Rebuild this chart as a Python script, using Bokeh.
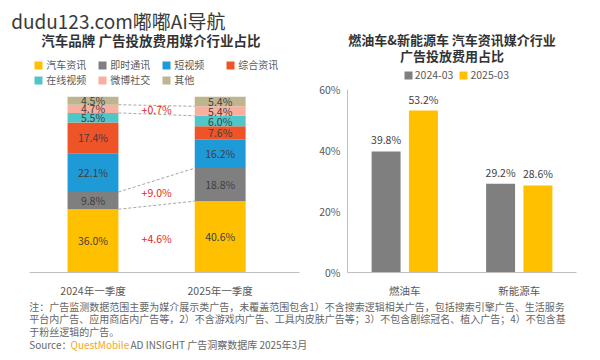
from bokeh.plotting import figure
from bokeh.models import (ColumnDataSource, Range1d, FactorRange, FixedTicker,
                          Legend, LegendItem, Label)
from bokeh.layouts import row, column
from bokeh.transform import dodge
from bokeh.core.properties import value
from bokeh.embed import file_html
from bokeh.resources import INLINE

FONT = "Noto Sans CJK SC"

# ---------------- data: left chart ----------------
quarters = ["2024年一季度", "2025年一季度"]
media = ["汽车资讯", "即时通讯", "短视频", "综合资讯", "在线视频", "微博社交", "其他"]
share_2024q1 = [36.0, 9.8, 22.1, 17.4, 5.5, 4.7, 4.5]
share_2025q1 = [40.6, 18.8, 16.2, 7.6, 6.0, 5.4, 5.4]
highlighted = ["汽车资讯", "即时通讯", "微博社交"]
media_colors = ["#FFC000", "#7F7F7F", "#1E9AD6", "#EE5428", "#4FC6C8", "#F9AFA0", "#BEB58F"]

# ---------------- data: right chart ----------------
car_types = ["燃油车", "新能源车"]
periods = ["2024-03", "2025-03"]
news_2024_03 = [39.8, 29.2]
news_2025_03 = [53.2, 28.6]
y_ticks = [0, 20, 40, 60]
period_colors = ["#7F7F7F", "#FFC000"]

# ---------------- texts ----------------
watermark = "dudu123.com嘟嘟Ai导航"
left_title = "汽车品牌 广告投放费用媒介行业占比"
right_title = ["燃油车&新能源车 汽车资讯媒介行业", "广告投放费用占比"]
notes = [
    "注：广告监测数据范围主要为媒介展示类广告，未覆盖范围包含1）不含搜索逻辑相关广告，包括搜索引擎广告、生活服务",
    "平台内广告、应用商店内广告等，2）不含游戏内广告、工具内皮肤广告等；3）不包含剧综冠名、植入广告；4）不包含基",
    "于粉丝逻辑的广告。",
]
source_parts = ["Source：", "QuestMobile", "AD INSIGHT 广告洞察数据库 2025年3月"]

TXT = "#404040"
GRAY = "#595959"

# layout geometry (page pixels)
PAGE_X0, PAGE_Y0 = 0, 0
W1, H1 = 316, 300
W2 = 276
BOTTOM = 24
FRAME_BOTTOM_PAGE = PAGE_Y0 + H1 - BOTTOM           # 276

# =============== left figure ===============
L_PX_PER_UNIT = 127.2        # px between the two bar centres
L_X0_PAGE = 92.5             # page x of first bar centre
L_PX_PER_PCT = 1.783
lx = lambda px: (px - L_X0_PAGE) / L_PX_PER_UNIT
ly = lambda py: (FRAME_BOTTOM_PAGE - py) / L_PX_PER_PCT

left = figure(width=W1, height=H1, output_backend="svg", toolbar_location=None,
              x_range=Range1d(lx(PAGE_X0), lx(PAGE_X0 + W1)),
              y_range=Range1d(0, ly(PAGE_Y0)),
              y_axis_location=None,
              min_border_left=0, min_border_right=0,
              min_border_top=0, min_border_bottom=BOTTOM)
left.outline_line_color = None
left.grid.visible = False

xs = list(range(len(quarters)))
stack_data = {"x": xs}
for m, a, b in zip(media, share_2024q1, share_2025q1):
    stack_data[m] = [a, b]
stack_src = ColumnDataSource(stack_data)
stack_rs = left.vbar_stack(media, x="x", width=0.4, color=media_colors,
                           line_color=None, source=stack_src)

seg_x, seg_y, seg_t = [], [], []
cums, mids = [], []
for xi, shares in enumerate([share_2024q1, share_2025q1]):
    c = 0.0
    cum, mid = [0.0], []
    for s in shares:
        seg_x.append(xi)
        seg_y.append(c + s / 2)
        mid.append(c + s / 2)
        seg_t.append(f"{s:.1f}%")
        c += s
        cum.append(c)
    cums.append(cum)
    mids.append(mid)
left.text(x=seg_x, y=seg_y, text=seg_t, text_align="center", text_baseline="middle",
          text_font=value(FONT), text_font_size="10.5px", text_color=TXT)

ks = set()
dx, dy, dt = [], [], []
for name in highlighted:
    i = media.index(name)
    if i > 0:
        ks.add(i)
    ks.add(i + 1)
    d = share_2025q1[i] - share_2024q1[i]
    dx.append(0.5)
    dy.append((mids[0][i] + mids[1][i]) / 2)
    dt.append(f"{d:+.1f}%")
ks = sorted(ks)
left.segment(x0=[0.2] * len(ks), y0=[cums[0][k] for k in ks],
             x1=[0.8] * len(ks), y1=[cums[1][k] for k in ks],
             line_color="#A6A6A6", line_width=1, line_dash="3 2")
left.text(x=dx, y=dy, text=dt, text_align="center", text_baseline="middle",
          text_font=value(FONT), text_font_size="10.5px", text_color="#E02828")

ax = left.xaxis[0]
ax.ticker = FixedTicker(ticks=xs)
ax.major_label_overrides = {i: q for i, q in enumerate(quarters)}
ax.bounds = (lx(28.7), lx(298.5))
ax.major_tick_line_color = None
ax.major_tick_out = 0
ax.major_tick_in = 0
ax.minor_tick_line_color = None
ax.axis_line_color = "#BFBFBF"
ax.major_label_standoff = 10
ax.major_label_text_font = FONT
ax.major_label_text_font_size = "10.5px"
ax.major_label_text_color = GRAY

leg = Legend(items=[LegendItem(label=m, renderers=[r]) for m, r in zip(media, stack_rs)],
             ncols=4, location=(33.3 - PAGE_X0, FRAME_BOTTOM_PAGE - 91),
             orientation="horizontal",
             glyph_width=10, glyph_height=10, label_standoff=3, label_width=51,
             label_height=14, spacing=0, padding=0, margin=0,
             border_line_color=None, background_fill_alpha=0,
             label_text_font=FONT, label_text_font_size="10px", label_text_color=GRAY)
left.add_layout(leg, "center")

left.add_layout(Label(x=lx(10.7), y=ly(20), text=watermark,
                      text_font=FONT, text_font_size="19px", text_color="#3A3A3A",
                      text_align="left", text_baseline="middle"))
left.add_layout(Label(x=lx(150.4), y=ly(40), text=left_title,
                      text_font=FONT, text_font_size="13.5px", text_font_style="bold",
                      text_color="#333333", text_align="center", text_baseline="middle"))

# =============== right figure ===============
R_LEFT = 30
R_RIGHT = 16
R_FRAME_LEFT_PAGE = PAGE_X0 + W1 + R_LEFT              # 346
R_FRAME_W = W2 - R_LEFT - R_RIGHT                       # 230
R_PX_PER_PCT = 3.088
rx = lambda px: (px - R_FRAME_LEFT_PAGE) / R_FRAME_W * len(car_types)
ry = lambda py: (FRAME_BOTTOM_PAGE - py) / R_PX_PER_PCT

right = figure(width=W2, height=H1, output_backend="svg", toolbar_location=None,
               x_range=FactorRange(*car_types, range_padding=0),
               y_range=Range1d(0, ry(PAGE_Y0)),
               min_border_left=R_LEFT, min_border_right=R_RIGHT,
               min_border_top=0, min_border_bottom=BOTTOM)
right.outline_line_color = None
right.grid.visible = False

rsrc = ColumnDataSource(dict(cat=car_types, a=news_2024_03, b=news_2025_03,
                             ta=[f"{v:.1f}%" for v in news_2024_03],
                             tb=[f"{v:.1f}%" for v in news_2025_03]))
ra = right.vbar(x=dodge("cat", -0.163, range=right.x_range), top="a", width=0.253,
                color=period_colors[0], line_color=None, source=rsrc)
rb = right.vbar(x=dodge("cat", 0.163, range=right.x_range), top="b", width=0.253,
                color=period_colors[1], line_color=None, source=rsrc)
right.text(x=dodge("cat", -0.163, range=right.x_range), y="a", text="ta", source=rsrc,
           text_align="center", text_baseline="bottom", y_offset=-4,
           text_font=value(FONT), text_font_size="10.5px", text_color=TXT)
right.text(x=dodge("cat", 0.163, range=right.x_range), y="b", text="tb", source=rsrc,
           text_align="center", text_baseline="bottom", y_offset=-4,
           text_font=value(FONT), text_font_size="10.5px", text_color=TXT)

for a in (right.xaxis[0], right.yaxis[0]):
    a.major_tick_line_color = None
    a.major_tick_out = 0
    a.major_tick_in = 0
    a.minor_tick_line_color = None
    a.axis_line_color = "#BFBFBF"
    a.major_label_text_font = FONT
    a.major_label_text_font_size = "10.5px"
    a.major_label_text_color = GRAY
right.xaxis.major_label_standoff = 10
right.yaxis.major_label_standoff = 7
right.yaxis.ticker = FixedTicker(ticks=y_ticks)
right.yaxis.major_label_overrides = {t: f"{t}%" for t in y_ticks}
right.yaxis.bounds = (y_ticks[0], y_ticks[-1])

rleg = Legend(items=[LegendItem(label=periods[0], renderers=[ra]),
                     LegendItem(label=periods[1], renderers=[rb])],
              location=(398.8 - R_FRAME_LEFT_PAGE + 3, FRAME_BOTTOM_PAGE - 86),
              orientation="horizontal",
              glyph_width=10, glyph_height=10, label_standoff=2, label_width=38,
              label_height=14, spacing=5, padding=0, margin=0,
              border_line_color=None, background_fill_alpha=0,
              label_text_font=FONT, label_text_font_size="10.5px", label_text_color=GRAY)
right.add_layout(rleg, "center")

for py, t in zip([40, 56], right_title):
    right.add_layout(Label(x=rx(451), y=ry(py), text=t,
                           text_font=FONT, text_font_size="13px", text_font_style="bold",
                           text_color="#333333", text_align="center", text_baseline="middle"))

# =============== footer ===============
W3 = W1 + W2
H3 = 52
foot = figure(width=W3, height=H3, output_backend="svg", toolbar_location=None,
              x_range=Range1d(0, W3), y_range=Range1d(H3, 0),
              x_axis_location=None, y_axis_location=None,
              min_border_left=0, min_border_right=0,
              min_border_top=0, min_border_bottom=0)
foot.outline_line_color = None
foot.grid.visible = False
FY0 = PAGE_Y0 + H1
foot.text(x=[28.7 - PAGE_X0] * len(notes), y=[306 - FY0, 318.3 - FY0, 330.7 - FY0], text=notes,
          text_align="left", text_baseline="middle",
          text_font=value(FONT), text_font_size="10px", text_color="#666666")
foot.text(x=[28.7 - PAGE_X0, 70 - PAGE_X0, 130 - PAGE_X0], y=[344.3 - FY0] * 3, text=source_parts,
          text_align="left", text_baseline="middle",
          text_font=value(FONT), text_font_size="10px",
          text_color=["#666666", "#F5A623", "#666666"])

layout = column(row(left, right), foot)
open("out.html", "w").write(file_html(layout, INLINE))
